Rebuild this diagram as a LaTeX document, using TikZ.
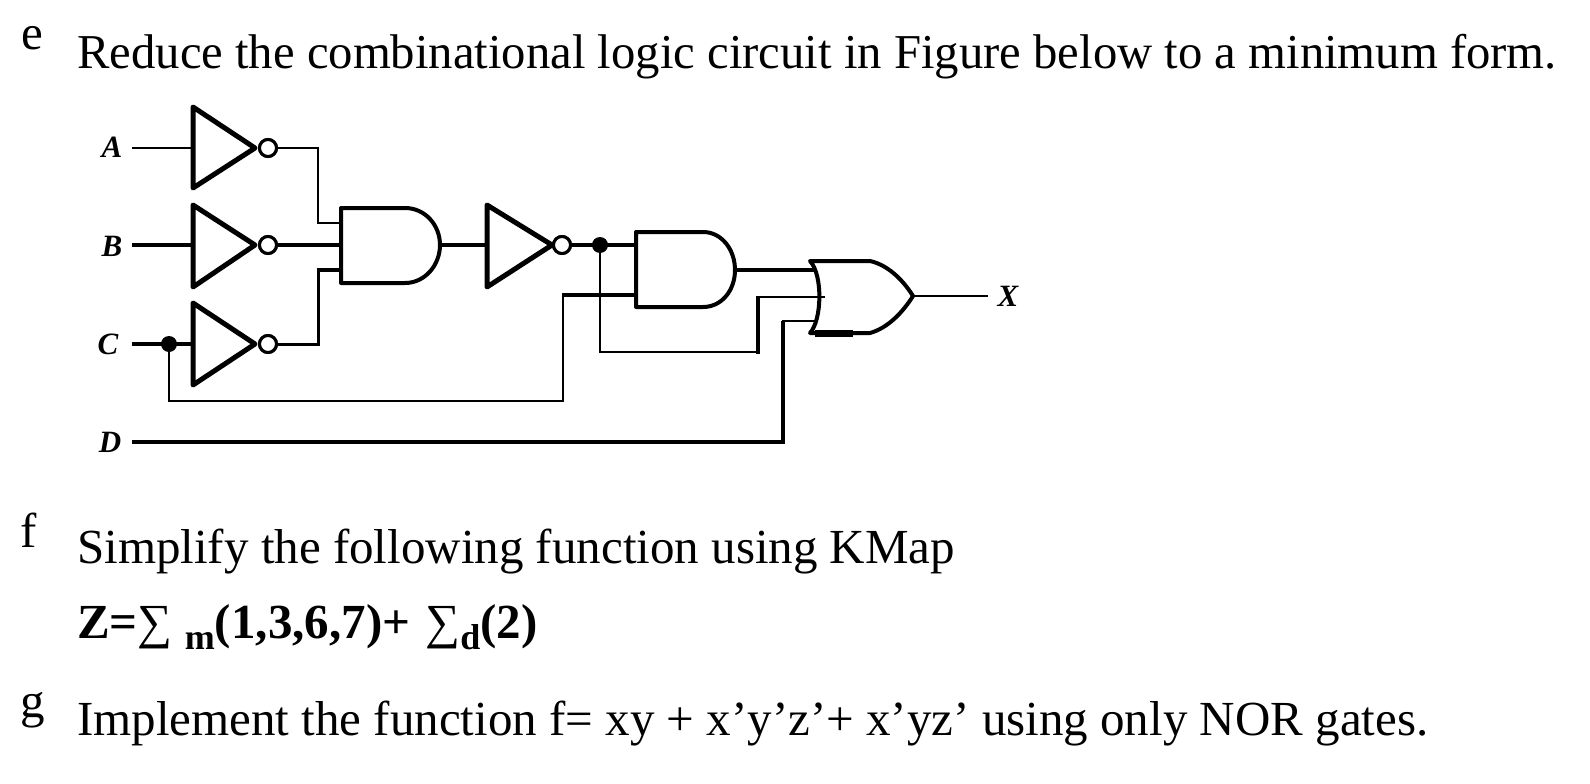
\documentclass[tikz,border=0pt]{standalone}
\usepackage{fontspec}
\setmainfont{Liberation Serif}
\begin{document}
\begin{tikzpicture}[x=1pt,y=-1pt,
  thinw/.style={line width=2pt,line join=miter},
  thickw/.style={line width=4pt,line join=miter},
  gate/.style={line width=4pt,line join=round,fill=white},
  bubble/.style={circle,draw,line width=3pt,fill=white,minimum size=17pt,inner sep=0pt},
  jdot/.style={circle,fill=black,minimum size=16pt,inner sep=0pt},
  txt/.style={anchor=base west,inner sep=0pt,font=\fontsize{49}{49}\selectfont},
  qlabel/.style={anchor=base west,inner sep=0pt,font=\fontsize{49}{49}\selectfont},
  gpin/.style={anchor=center,inner sep=0pt,font=\fontsize{31}{31}\selectfont\bfseries\itshape}]
\useasboundingbox (0,0) rectangle (1590,784);
% text
\node[qlabel] (le) at (21,49) {e};
\node[txt,font=\fontsize{48.7}{49}\selectfont] (t1) at (77,68) {Reduce the combinational logic circuit in Figure below to a minimum form.};
\node[qlabel] (lf) at (20,547) {f};
\node[txt] (t2) at (77,563) {Simplify the following function using KMap};
\node[txt] (t3) at (77,638) {\textbf{Z=}∑ \textbf{\raisebox{-11pt}{\fontsize{36}{36}\selectfont m}(1,3,6,7)+}\hspace{3pt} ∑\textbf{\raisebox{-11pt}{\fontsize{36}{36}\selectfont d}(2)}};
\node[qlabel] (lg) at (20,717) {g};
\node[txt] (t4) at (77,735) {Implement the function f= xy + x’y’z’+ x’yz’ using only NOR gates.};
% pin labels
\node[gpin] (A) at (112,147) {A};
\node[gpin] (B) at (112,246) {B};
\node[gpin] (C) at (108,344) {C};
\node[gpin] (D) at (110,442) {D};
\node[gpin] (X) at (1008,296) {X};
\coordinate (Ae) at (132,148);
\coordinate (Be) at (132,245);
\coordinate (Ce) at (132,344);
\coordinate (De) at (132,442);
\coordinate (Xe) at (988,296);
% wires
\coordinate (Ai) at (193,148);
\coordinate (Bi) at (193,245);
\coordinate (Ci) at (193,344);
\coordinate (N1i) at (487,245);
\coordinate (And1a) at (341,223);
\coordinate (And1b) at (341,245);
\coordinate (And1c) at (341,270);
\coordinate (And1o) at (440,245);
\coordinate (And2a) at (636,245);
\coordinate (And2b) at (636,295);
\coordinate (And2o) at (735,270);
\coordinate (Ora) at (815,270);
\coordinate (Orb) at (825,297);
\coordinate (Orc) at (818,321);
\coordinate (Oro) at (913,296);
\node[bubble] (n1) at (268,148) {};
\node[bubble] (n2) at (268,245) {};
\node[bubble] (n3) at (268,344) {};
\node[bubble] (n4) at (562,245) {};
\node[jdot] (dc) at (169,344) {};
\node[jdot] (dn) at (600,245) {};
\draw[thinw] (Ae) -- (Ai);
\draw[thickw] (Be) -- (Bi);
\draw[thickw] (Ce) -- (Ci);
\draw[thinw] (n1) -| (318,223) -- (And1a);
\draw[thickw] (n2) -- (And1b);
\draw[line width=3pt] (n3) -| (318,270);
\draw[thickw] (316.5,270) -- (And1c);
\draw[thickw] (And1o) -- (N1i);
\draw[thickw] (n4) -- (And2a);
\draw[thinw] (dc) |- (563,401) -- (563,295);
\draw[thickw] (562,295) -- (And2b);
\draw[thinw] (dn) |- (758,352);
\draw[line width=4pt] (758,354) -- (758,297);
\draw[thickw] (De) -| (783,321);
\draw[thinw] (782,321) -- (Orc);
\draw[thickw] (And2o) -- (Ora);
\draw[thinw] (Oro) -- (Xe);
% gates
\draw[gate,line width=5pt] (193,107) -- (255,148) -- (193,188) -- cycle;
\draw[gate,line width=5pt] (193,205) -- (255,245) -- (193,287) -- cycle;
\draw[gate,line width=5pt] (193,303) -- (255,344) -- (193,385) -- cycle;
\draw[gate,line width=5pt] (487,205) -- (552,245) -- (487,287) -- cycle;
\node[bubble] at (268,148) {};
\node[bubble] at (268,245) {};
\node[bubble] at (268,344) {};
\node[bubble] at (562,245) {};
\draw[gate] (341,208) -- (405,208) .. controls (425,208) and (440,225) .. (440,245) .. controls (440,265) and (425,283) .. (405,283) -- (341,283) -- cycle;
\draw[gate] (636,232) -- (703,232) .. controls (722,232) and (735,250) .. (735,270) .. controls (735,290) and (722,307) .. (703,307) -- (636,307) -- cycle;
\draw[gate] (810,261) -- (870,261) .. controls (888,265) and (903,280) .. (913,296) .. controls (903,312) and (888,328) .. (870,333) -- (810,333) .. controls (822,320) and (823,275) .. (810,261) -- cycle;
\draw[line width=7pt] (815,333) -- (853,333);
\draw[thinw] (756,297) -- (Orb);
\end{tikzpicture}
\end{document}
